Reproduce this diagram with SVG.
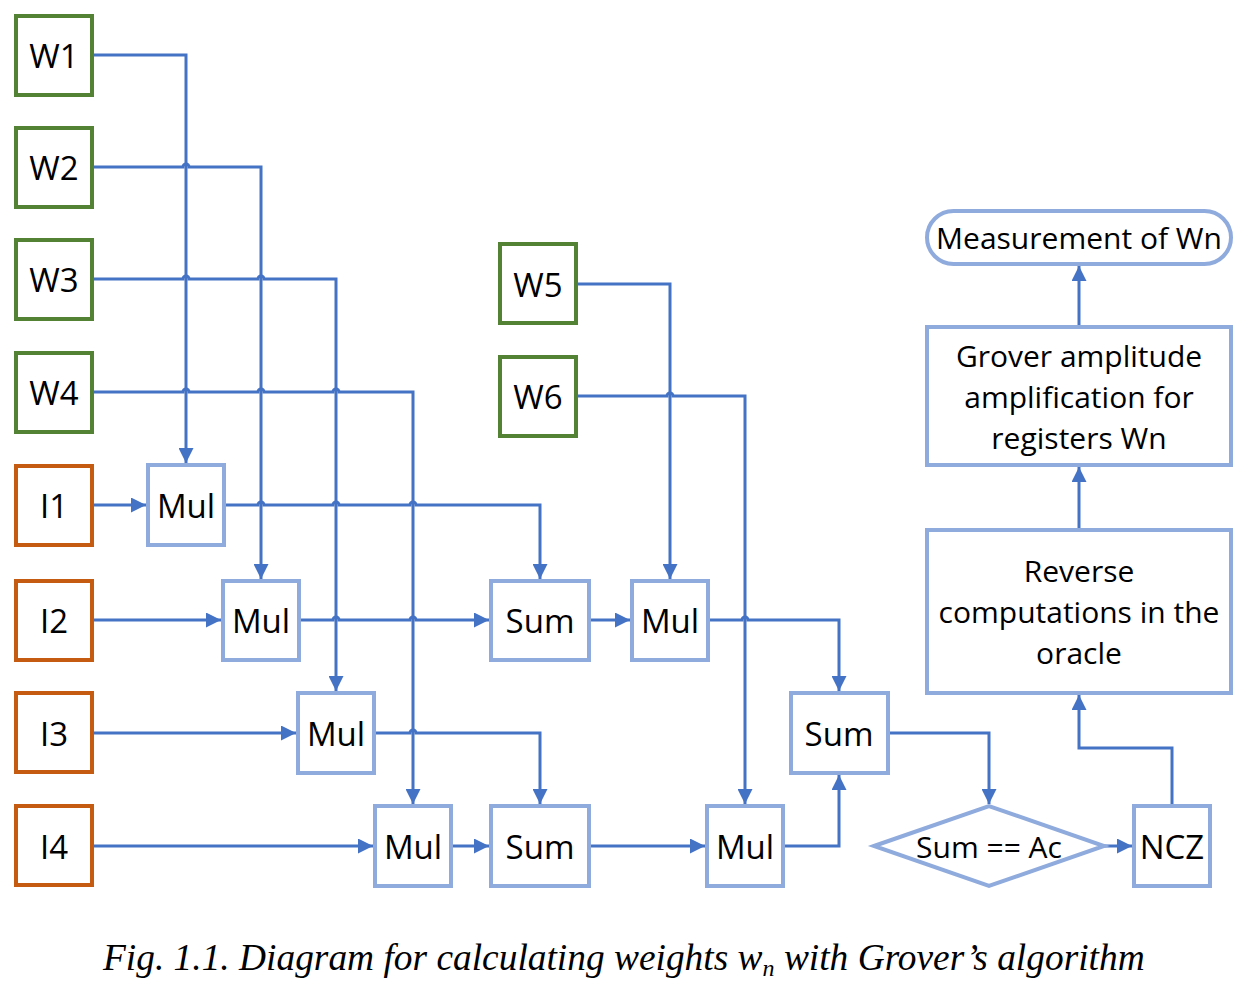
<svg xmlns="http://www.w3.org/2000/svg" width="1250" height="992" viewBox="0 0 1250 992">
<defs>
<marker id="ah" viewBox="0 0 10 10" refX="10" refY="5" markerWidth="5" markerHeight="5" orient="auto" markerUnits="strokeWidth">
<path d="M0,0 L10,5 L0,10 z" fill="#4472c4"/>
</marker>
<style>
.w{fill:#fff;stroke:#548235;stroke-width:4}
.i{fill:#fff;stroke:#c55a11;stroke-width:4}
.b{fill:#fff;stroke:#8faadc;stroke-width:4}
.t{font-family:"Open Sans","Noto Sans",sans-serif;font-size:33px;fill:#000;text-anchor:middle;dominant-baseline:central}
.m{font-size:30px}
.c{fill:none;stroke:#4472c4;stroke-width:3;stroke-linejoin:miter}
.a{marker-end:url(#ah)}
.cap{font-family:"Liberation Serif",serif;font-style:italic;font-size:37.4px;fill:#000}
.sub{font-size:24px}
</style>
</defs>
<rect width="1250" height="992" fill="#fff"/>
<g id="connectors">
<path class="c a" d="M92,55 H186 V463"/>
<path class="c a" d="M92,167 H183 a3,3 0 0 1 6,0 H261 V579"/>
<path class="c a" d="M92,279 H183 a3,3 0 0 1 6,0 H258 a3,3 0 0 1 6,0 H336 V691"/>
<path class="c a" d="M92,392 H183 a3,3 0 0 1 6,0 H258 a3,3 0 0 1 6,0 H333 a3,3 0 0 1 6,0 H413 V804"/>
<path class="c a" d="M92,505 H146"/>
<path class="c a" d="M92,620 H221"/>
<path class="c a" d="M92,733 H296"/>
<path class="c a" d="M92,846 H373"/>
<path class="c a" d="M224,505 H258 a3,3 0 0 1 6,0 H333 a3,3 0 0 1 6,0 H410 a3,3 0 0 1 6,0 H540 V579"/>
<path class="c a" d="M299,620 H333 a3,3 0 0 1 6,0 H410 a3,3 0 0 1 6,0 H489"/>
<path class="c a" d="M374,733 H410 a3,3 0 0 1 6,0 H540 V804"/>
<path class="c a" d="M451,846 H489"/>
<path class="c a" d="M589,620 H630"/>
<path class="c a" d="M576,284 H670 V579"/>
<path class="c a" d="M576,396 H667 a3,3 0 0 1 6,0 H745 V804"/>
<path class="c a" d="M589,846 H705"/>
<path class="c a" d="M708,620 H742 a3,3 0 0 1 6,0 H839 V691"/>
<path class="c a" d="M783,846 H839 V775"/>
<path class="c a" d="M888,733 H989 V804"/>
<path class="c a" d="M1104,846 H1132"/>
<path class="c a" d="M1172,806 V748 H1079 V695"/>
<path class="c a" d="M1079,530 V467"/>
<path class="c a" d="M1079,327 V266"/>
</g>
<g id="W1"><rect class="w" x="16" y="16" width="76" height="79"/><text class="t" x="54" y="55">W1</text></g>
<g id="W2"><rect class="w" x="16" y="128" width="76" height="79"/><text class="t" x="54" y="167">W2</text></g>
<g id="W3"><rect class="w" x="16" y="240" width="76" height="79"/><text class="t" x="54" y="279">W3</text></g>
<g id="W4"><rect class="w" x="16" y="353" width="76" height="79"/><text class="t" x="54" y="392">W4</text></g>
<g id="I1"><rect class="i" x="16" y="466" width="76" height="79"/><text class="t" x="54" y="505">I1</text></g>
<g id="I2"><rect class="i" x="16" y="581" width="76" height="79"/><text class="t" x="54" y="620">I2</text></g>
<g id="I3"><rect class="i" x="16" y="693" width="76" height="79"/><text class="t" x="54" y="733">I3</text></g>
<g id="I4"><rect class="i" x="16" y="806" width="76" height="79"/><text class="t" x="54" y="846">I4</text></g>
<g id="W5"><rect class="w" x="500" y="244" width="76" height="79"/><text class="t" x="538" y="284">W5</text></g>
<g id="W6"><rect class="w" x="500" y="357" width="76" height="79"/><text class="t" x="538" y="396">W6</text></g>
<g id="Mul1"><rect class="b" x="148" y="465" width="76" height="80"/><text class="t" x="186" y="505">Mul</text></g>
<g id="Mul2"><rect class="b" x="223" y="581" width="76" height="79"/><text class="t" x="261" y="620">Mul</text></g>
<g id="Mul3"><rect class="b" x="298" y="693" width="76" height="80"/><text class="t" x="336" y="733">Mul</text></g>
<g id="Mul4"><rect class="b" x="375" y="806" width="76" height="80"/><text class="t" x="413" y="846">Mul</text></g>
<g id="Sum1"><rect class="b" x="491" y="581" width="98" height="79"/><text class="t" x="540" y="620">Sum</text></g>
<g id="Mul5"><rect class="b" x="632" y="581" width="76" height="79"/><text class="t" x="670" y="620">Mul</text></g>
<g id="Sum2"><rect class="b" x="491" y="806" width="98" height="80"/><text class="t" x="540" y="846">Sum</text></g>
<g id="Mul6"><rect class="b" x="707" y="806" width="76" height="80"/><text class="t" x="745" y="846">Mul</text></g>
<g id="Sum3"><rect class="b" x="791" y="693" width="97" height="80"/><text class="t" x="839" y="733">Sum</text></g>
<g id="Cond"><polygon class="b" points="874,846 989,806 1104,846 989,886"/><text class="t m" x="989" y="846">Sum == Ac</text></g>
<g id="NCZ"><rect class="b" x="1134" y="806" width="76" height="80"/><text class="t" x="1172" y="846">NCZ</text></g>
<g id="Reverse"><rect class="b" x="927" y="530" width="304" height="163"/><text class="t m" x="1079" y="570">Reverse</text><text class="t m" x="1079" y="611">computations in the</text><text class="t m" x="1079" y="652">oracle</text></g>
<g id="Grover"><rect class="b" x="927" y="327" width="304" height="138"/><text class="t m" x="1079" y="355">Grover amplitude</text><text class="t m" x="1079" y="396">amplification for</text><text class="t m" x="1079" y="437">registers Wn</text></g>
<g id="Measurement"><rect class="b" x="927" y="211" width="304" height="53" rx="26.5"/><text class="t m" x="1079" y="237">Measurement of Wn</text></g>
<g id="caption">
<text class="cap" x="103" y="970">Fig. 1.1. Diagram for calculating weights w<tspan class="sub" dy="6">n</tspan><tspan dy="-6"> with Grover’s algorithm</tspan></text>
</g>
</svg>
